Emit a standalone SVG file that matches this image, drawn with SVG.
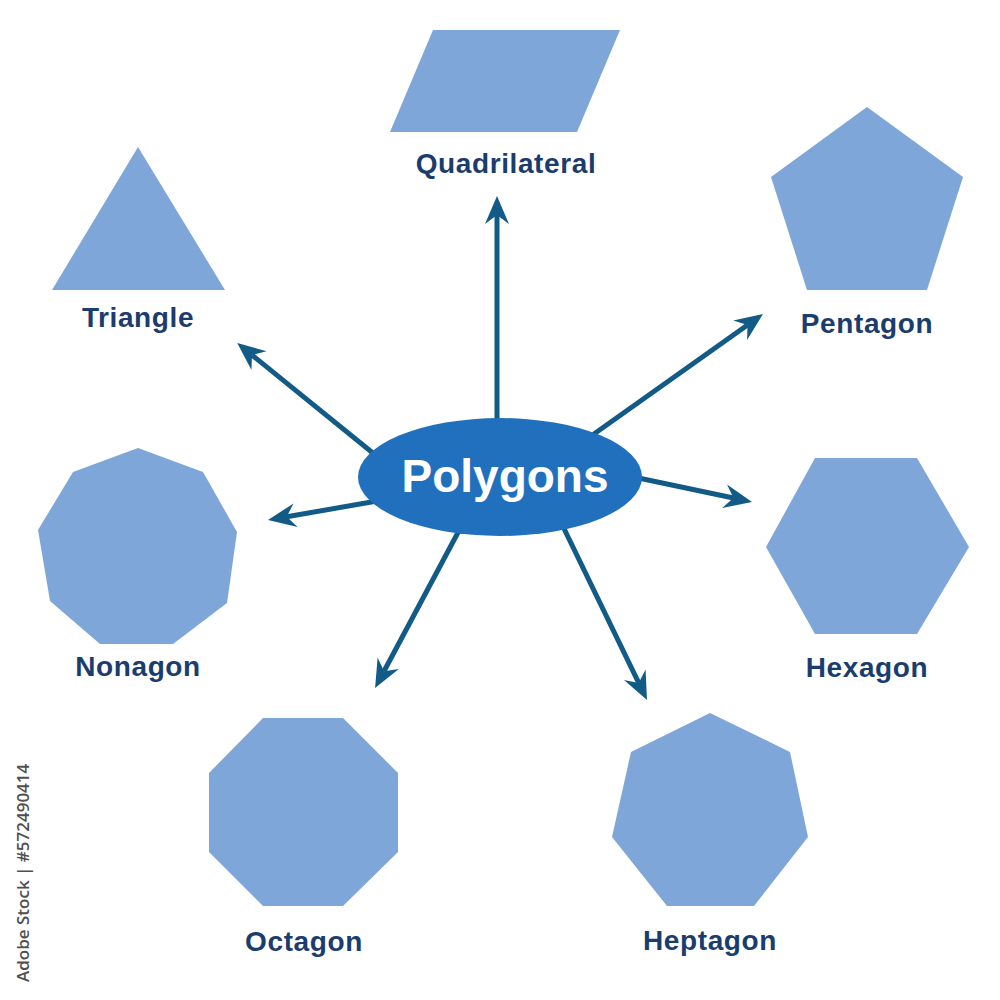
<svg xmlns="http://www.w3.org/2000/svg" width="1000" height="1000" viewBox="0 0 1000 1000">
  <style>
    .shape { fill: #7ea6d8; }
    .label { font-family: "Liberation Sans", Arial, sans-serif; font-weight: bold; font-size: 28px; fill: #1a3d6e; text-anchor: middle; letter-spacing: 0.6px; }
    .conn { stroke: #125b86; stroke-width: 5; fill: none; marker-end: url(#arrow); }
    .hub { fill: #2170bd; }
    .hubtext { font-family: "Liberation Sans", Arial, sans-serif; font-weight: bold; font-size: 46px; fill: #ffffff; text-anchor: middle; }
    .credit { font-family: "Open Sans", "Liberation Sans", sans-serif; font-size: 17px; font-weight: 600; fill: #505050; }
  </style>
  <defs>
    <marker id="arrow" markerUnits="userSpaceOnUse" viewBox="-12 -14 34 28" markerWidth="34" markerHeight="28" refX="0" refY="0" orient="auto" overflow="visible">
      <path d="M19,0 L-9,-12 L0,0 L-9,12 Z" fill="#125b86"/>
    </marker>
  </defs>
  <rect x="0" y="0" width="1000" height="1000" fill="#ffffff"/>

  <g id="connectors">
    <line class="conn" x1="497" y1="440" x2="497" y2="215"/>
    <line class="conn" x1="400" y1="475" x2="252" y2="355"/>
    <line class="conn" x1="400" y1="497" x2="286.7" y2="516.8"/>
    <line class="conn" x1="570" y1="451" x2="747.5" y2="325"/>
    <line class="conn" x1="610" y1="472" x2="733.4" y2="498"/>
    <line class="conn" x1="470" y1="510" x2="384" y2="671.2"/>
    <line class="conn" x1="555" y1="510" x2="638.7" y2="682.9"/>
  </g>

  <g id="polygons">
    <ellipse class="hub" cx="500" cy="477" rx="142" ry="59"/>
    <text class="hubtext" x="505" y="492">Polygons</text>
  </g>

  <g id="quadrilateral">
    <polygon class="shape" points="433,30 620,30 577,132 390,132"/>
    <text class="label" x="506" y="173">Quadrilateral</text>
  </g>

  <g id="triangle">
    <polygon class="shape" points="138,147 225,290 52,290"/>
    <text class="label" x="138" y="327">Triangle</text>
  </g>

  <g id="pentagon">
    <polygon class="shape" points="867,107 963,177 927,290 807,290 771,177"/>
    <text class="label" x="867" y="333">Pentagon</text>
  </g>

  <g id="hexagon">
    <polygon class="shape" points="815,458 917,458 969,547 917,634 815,634 766,547"/>
    <text class="label" x="867" y="677">Hexagon</text>
  </g>

  <g id="nonagon">
    <polygon class="shape" points="138,448 203,472 237,532 227,603 173,644 100,644 50,601 38,530 73,472"/>
    <text class="label" x="138" y="676">Nonagon</text>
  </g>

  <g id="octagon">
    <polygon class="shape" points="263,718 343,718 398,773 398,852 343,906 263,906 209,852 209,773"/>
    <text class="label" x="304" y="951">Octagon</text>
  </g>

  <g id="heptagon">
    <polygon class="shape" points="710,713 790,752 808,837 754,906 667,906 612,837 631,752"/>
    <text class="label" x="710" y="950">Heptagon</text>
  </g>

  <text class="credit" transform="translate(29,982) rotate(-90)">Adobe Stock | #572490414</text>
</svg>
